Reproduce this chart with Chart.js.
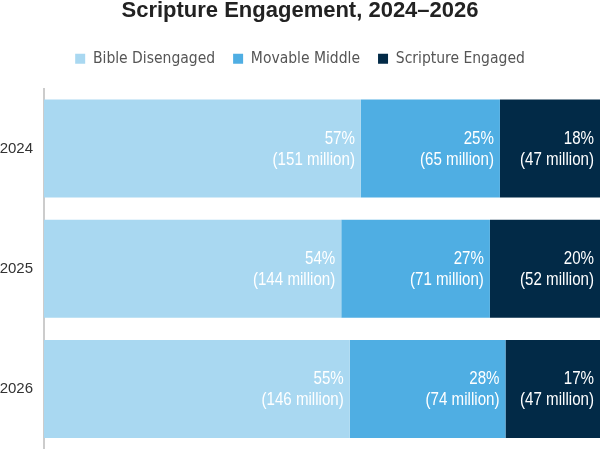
<!DOCTYPE html>
<html>
<head>
<meta charset="utf-8">
<script src="https://cdn.jsdelivr.net/npm/chart.js@4"></script>
<style>
html,body{margin:0;padding:0;background:#fff;}
#wrap{width:600px;height:449px;position:relative;}
</style>
</head>
<body>
<div id="wrap"><canvas id="c" width="600" height="449"></canvas></div>
<script>
const title = "Scripture Engagement, 2024–2026";
const years = ["2024", "2025", "2026"];
const seriesNames = ["Bible Disengaged", "Movable Middle", "Scripture Engaged"];
const disengagedPct = [57, 54, 55];
const middlePct = [25, 27, 28];
const engagedPct = [18, 20, 17];
const disengagedMillions = [151, 144, 146];
const middleMillions = [65, 71, 74];
const engagedMillions = [47, 52, 47];
const colors = ["#A9D8F1", "#4FAEE3", "#022A47"];

const pcts = [disengagedPct, middlePct, engagedPct];
const mils = [disengagedMillions, middleMillions, engagedMillions];
const totals = years.map((y, i) => pcts.reduce((s, a) => s + a[i], 0));

const narrow = "'DejaVu Sans Condensed', 'Liberation Sans', sans-serif";
const sans = "'Liberation Sans', Arial, sans-serif";

const labelPlugin = {
  id: 'barLabels',
  afterDatasetsDraw(chart) {
    const ctx = chart.ctx;
    chart.data.datasets.forEach((ds, di) => {
      const meta = chart.getDatasetMeta(di);
      meta.data.forEach((el, i) => {
        const lines = [[pcts[di][i] + '%', -10], ['(' + mils[di][i] + ' million)', 11.5]];
        lines.forEach(([txt, dy]) => {
          ctx.save();
          ctx.fillStyle = '#ffffff';
          ctx.font = "18px " + sans;
          ctx.textAlign = 'right';
          ctx.textBaseline = 'middle';
          ctx.translate(el.x - 6, el.y + dy);
          ctx.scale(0.84, 1);
          ctx.fillText(txt, 0, 0);
          ctx.restore();
        });
      });
    });
  }
};

new Chart(document.getElementById('c'), {
  type: 'bar',
  data: {
    labels: years,
    datasets: seriesNames.map((n, di) => ({
      label: n,
      data: pcts[di].map((v, i) => v / totals[i] * 100),
      backgroundColor: colors[di],
      borderWidth: 0,
      barPercentage: 0.815,
      categoryPercentage: 1
    }))
  },
  options: {
    indexAxis: 'y',
    responsive: false,
    animation: false,
    layout: { padding: 0 },
    plugins: {
      title: {
        display: true,
        text: title,
        color: '#222',
        font: { family: sans, size: 22, weight: 'bold', lineHeight: 1 },
        padding: { top: 0, bottom: 11 }
      },
      subtitle: {
        display: true,
        text: ' ',
        weight: 500,
        font: { size: 1, lineHeight: 1 },
        padding: { top: 0, bottom: 11 }
      },
      legend: {
        display: true,
        position: 'top',
        weight: 1000,
        labels: {
          boxWidth: 10,
          boxHeight: 10,
          color: '#555',
          padding: 18,
          font: { family: narrow, size: 15.5 }
        }
      },
      tooltip: { enabled: false }
    },
    scales: {
      x: {
        stacked: true,
        min: 0,
        max: 100,
        display: false
      },
      y: {
        stacked: true,
        grid: { display: false, drawTicks: false },
        border: { display: true, color: '#cccccc', width: 2 },
        ticks: {
          color: '#333',
          padding: 11,
          font: { family: sans, size: 15 }
        },
        afterFit(s) {
          s.width = 44;
          s.paddingTop = 0;
          s.paddingBottom = 0;
        }
      }
    }
  },
  plugins: [labelPlugin]
});
</script>
</body>
</html>
